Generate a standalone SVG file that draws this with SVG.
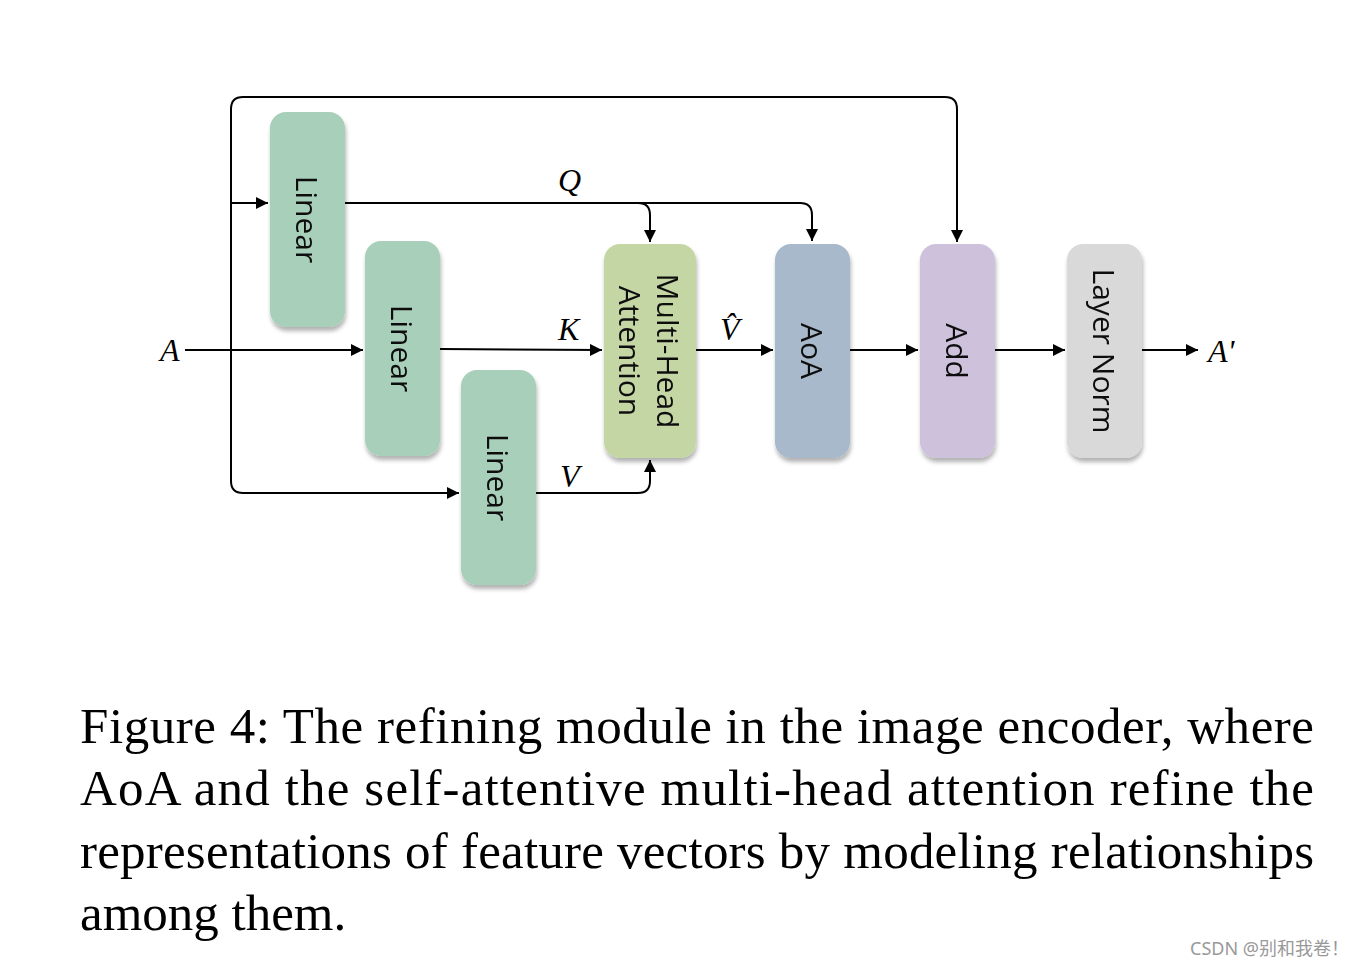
<svg xmlns="http://www.w3.org/2000/svg" width="1369" height="967" viewBox="0 0 1369 967">
<defs>
<marker id="ar" viewBox="0 0 10 10" refX="10" refY="5" markerWidth="12" markerHeight="12" markerUnits="userSpaceOnUse" orient="auto-start-reverse"><path d="M0,0L10,5L0,10z" fill="#000"/></marker>
<filter id="sh" x="-20%" y="-10%" width="140%" height="130%"><feDropShadow dx="1" dy="4" stdDeviation="2" flood-color="#000" flood-opacity="0.3"/></filter>
</defs>
<style>
.n{filter:url(#sh)}
.lb{font-family:"Open Sans","DejaVu Sans",sans-serif;font-size:30px;fill:#111}
.m{font-family:"Liberation Serif",serif;font-style:italic;font-size:32px;fill:#000}
.c{fill:none;stroke:#000;stroke-width:2}
.cap{font-family:"Liberation Serif",serif;font-size:51px;fill:#000}
</style>
<rect width="1369" height="967" fill="#fff"/>
<g id="connectors">
<path class="c" d="M185,350H363" marker-end="url(#ar)"/>
<path class="c" d="M957,242V109Q957,97 945,97H243Q231,97 231,109V481Q231,493 243,493H459" marker-start="url(#ar)" marker-end="url(#ar)"/>
<path class="c" d="M231,203H268" marker-end="url(#ar)"/>
<path class="c" d="M345,203H800Q812,203 812,215V241" marker-end="url(#ar)"/>
<path class="c" d="M638,203Q650,203 650,215V242" marker-end="url(#ar)"/>
<path class="c" d="M440,349L602,350" marker-end="url(#ar)"/>
<path class="c" d="M536,493H638Q650,493 650,481V460" marker-end="url(#ar)"/>
<path class="c" d="M696,350H773" marker-end="url(#ar)"/>
<path class="c" d="M850,350H918" marker-end="url(#ar)"/>
<path class="c" d="M995,350H1065" marker-end="url(#ar)"/>
<path class="c" d="M1142,350H1198" marker-end="url(#ar)"/>
</g>
<text class="m" x="160" y="361">A</text>
<text class="m" x="558" y="191">Q</text>
<text class="m" x="558" y="340">K</text>
<text class="m" x="560" y="487">V</text>
<text class="m" x="720" y="340">V̂</text>
<text class="m" x="1208" y="362">A'</text>
<g id="linear1" class="n"><rect x="270" y="112" width="75" height="215" rx="16" fill="#a8cfb9"/><text class="lb" transform="translate(296,219.5) rotate(90)" text-anchor="middle">Linear</text></g>
<g id="linear2" class="n"><rect x="365" y="241" width="75" height="215" rx="16" fill="#a8cfb9"/><text class="lb" transform="translate(391,348.5) rotate(90)" text-anchor="middle">Linear</text></g>
<g id="linear3" class="n"><rect x="461" y="370" width="75" height="215" rx="16" fill="#a8cfb9"/><text class="lb" transform="translate(487,477.5) rotate(90)" text-anchor="middle">Linear</text></g>
<g id="mha" class="n"><rect x="604" y="244" width="92" height="214" rx="16" fill="#c5d6a5"/><text class="lb" transform="translate(657,351) rotate(90)" text-anchor="middle">Multi-Head</text><text class="lb" transform="translate(619,351) rotate(90)" text-anchor="middle">Attention</text></g>
<g id="aoa" class="n"><rect x="775" y="244" width="75" height="214" rx="16" fill="#a7b9cb"/><text class="lb" transform="translate(801,351) rotate(90)" text-anchor="middle">AoA</text></g>
<g id="add" class="n"><rect x="920" y="244" width="75" height="214" rx="16" fill="#cdc1dc"/><text class="lb" transform="translate(946,351) rotate(90)" text-anchor="middle">Add</text></g>
<g id="layernorm" class="n"><rect x="1067" y="244" width="75" height="214" rx="16" fill="#d9d9d9"/><text class="lb" transform="translate(1093,351) rotate(90)" text-anchor="middle">Layer Norm</text></g>
<text class="cap" x="80" y="743" textLength="1234" lengthAdjust="spacing">Figure 4: The refining module in the image encoder, where</text>
<text class="cap" x="80" y="805" textLength="1234" lengthAdjust="spacing">AoA and the self-attentive multi-head attention refine the</text>
<text class="cap" x="80" y="868" textLength="1234" lengthAdjust="spacing">representations of feature vectors by modeling relationships</text>
<text class="cap" x="80" y="930">among them.</text>
<text x="1190" y="955" font-family="'Noto Sans','Noto Sans CJK SC',sans-serif" font-size="18" fill="#999">CSDN @别和我卷！</text>
</svg>
